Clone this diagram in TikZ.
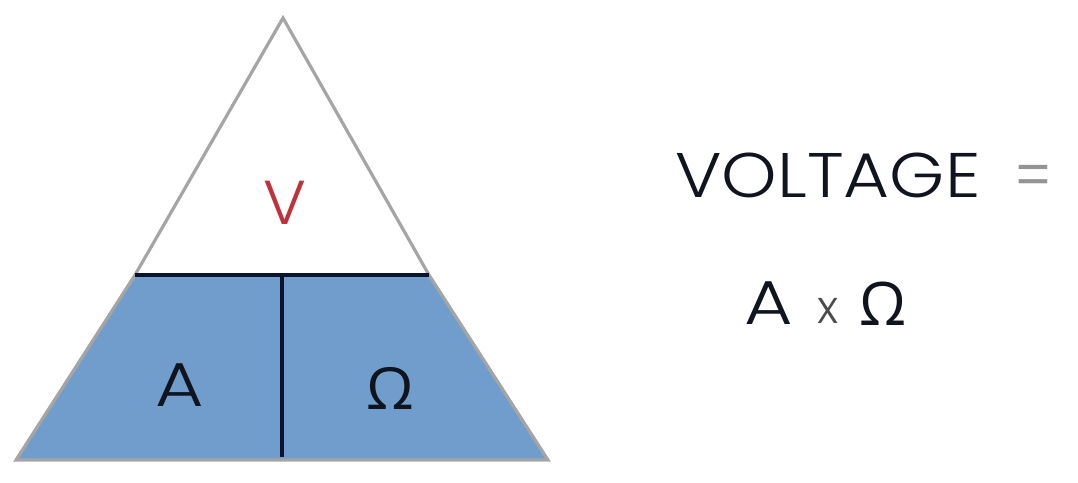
\documentclass[tikz,border=0pt]{standalone}
\usepackage{fontspec}
\setmainfont{Poppins Light}
\newfontfamily\symfont{Open Sans}
\begin{document}
\begin{tikzpicture}[x=1pt,y=-1pt,
  edge/.style={draw={rgb,255:red,12;green,20;blue,45},line width=3.6pt},
  outline/.style={draw={rgb,255:red,165;green,165;blue,165},line width=3.2pt,line join=miter},
  lbl/.style={inner sep=0pt,anchor=center,text={rgb,255:red,15;green,20;blue,30}}]
\useasboundingbox (0,0) rectangle (1078,482);
\coordinate (T) at (283,18);
\coordinate (L) at (16,460);
\coordinate (R) at (548,460);
\coordinate (ML) at (135,275);
\coordinate (MR) at (429,275);
\coordinate (MM) at (282,275);
\coordinate (BM) at (282,457);
\fill[fill={rgb,255:red,112;green,157;blue,204}] (ML)--(MR)--(R)--(L)--cycle;
\draw[outline] (T)--(MR)--(R)--(L)--(ML)--cycle;
\draw[edge] (ML)--(MR);
\draw[edge] (MM)--(BM);
\node[lbl,text={rgb,255:red,190;green,50;blue,60},xscale=1.05,font=\fontsize{62}{62}\selectfont] (v) at (285,203) {V};
\node[lbl,xscale=1.2,font=\fontsize{62}{62}\selectfont] (a) at (180,385) {A};
\node[lbl,xscale=1.05,font=\symfont\fontsize{58}{58}\selectfont] (o) at (390,388) {Ω};
\node[lbl,xscale=1.12,font=\fontsize{63}{63}\selectfont] (volt) at (828,175) {VOLTAGE};
\node[lbl,text=black!42,xscale=.8,font=\fontsize{70}{70}\selectfont] (eq) at (1033,183) {=};
\node[lbl,xscale=1.2,font=\fontsize{62}{62}\selectfont] (a2) at (769,303) {A};
\node[lbl,text=black!70,font=\fontsize{46}{46}\selectfont] (x) at (828,311) {x};
\node[lbl,font=\symfont\fontsize{60}{60}\selectfont] (o2) at (883,304) {Ω};
\end{tikzpicture}
\end{document}
